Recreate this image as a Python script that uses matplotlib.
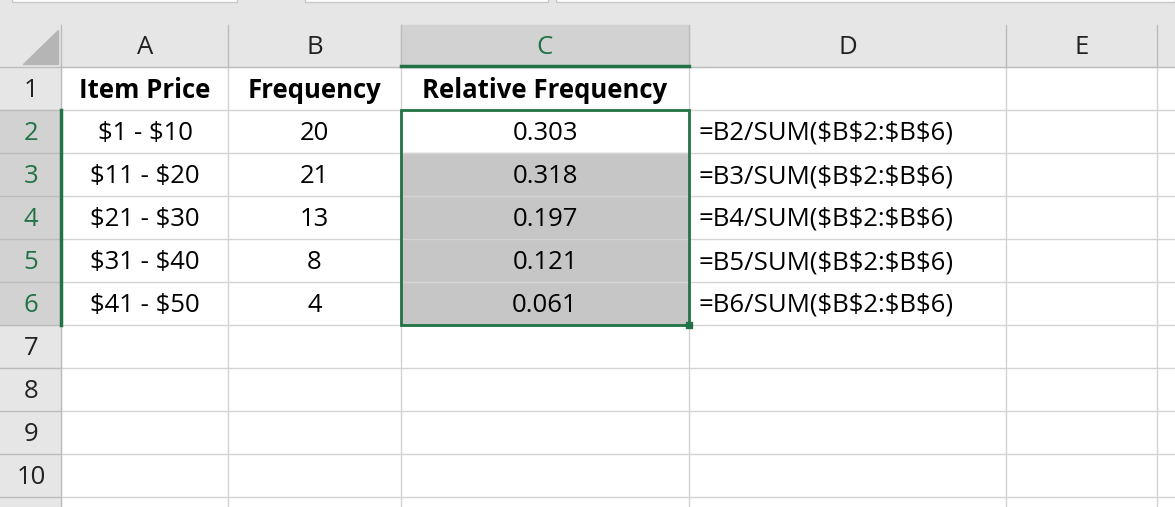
import matplotlib
matplotlib.use("Agg")
import matplotlib.pyplot as plt
from matplotlib.patches import Rectangle

plt.rcParams["text.parse_math"] = False

headers = ["Item Price", "Frequency", "Relative Frequency"]
price_ranges = ["$1 - $10", "$11 - $20", "$21 - $30", "$31 - $40", "$41 - $50"]
frequency = [20, 21, 13, 8, 4]
rel_freq = ["0.303", "0.318", "0.197", "0.121", "0.061"]
formulas = ["=B2/SUM($B$2:$B$6)", "=B3/SUM($B$2:$B$6)", "=B4/SUM($B$2:$B$6)",
            "=B5/SUM($B$2:$B$6)", "=B6/SUM($B$2:$B$6)"]
col_letters = ["A", "B", "C", "D", "E"]

W, H = 1175, 507
col_x = [62, 228, 401, 689, 1006, 1157, 1175]
row_y = [25, 67] + [67 + 43 * i for i in range(1, 11)]
FONT = "Open Sans"
GREEN = "#217346"
GRID = "#d4d4d4"
FS = 18.5

fig = plt.figure(figsize=(W / 100, H / 100), dpi=100)
ax = fig.add_axes([0, 0, 1, 1])
ax.set_xlim(0, W); ax.set_ylim(H, 0); ax.axis("off")

ax.add_patch(Rectangle((0, 0), W, H, color="white", zorder=0))
ax.add_patch(Rectangle((0, 0), W, 67, color="#e6e6e6", zorder=1))
ax.add_patch(Rectangle((0, 67), 61, H, color="#e6e6e6", zorder=1))
for x0, x1 in [(12, 237), (305, 548), (556, 1175)]:
    ax.add_patch(Rectangle((x0, -5), x1 - x0, 7, facecolor="white", edgecolor="#c8c8c8", lw=1, zorder=2))
ax.add_patch(plt.Polygon([[23, 64], [58, 64], [58, 30]], color="#b5b5b5", zorder=2))

ax.add_patch(Rectangle((col_x[2], 25), col_x[3] - col_x[2], 42, color="#d2d2d2", zorder=2))
ax.add_patch(Rectangle((0, row_y[2]), 61, row_y[7] - row_y[2], color="#d2d2d2", zorder=2))
ax.add_patch(Rectangle((col_x[2], row_y[3]), col_x[3] - col_x[2], row_y[7] - row_y[3], color="#c6c6c6", zorder=2))

for x in col_x[1:-1]:
    ax.plot([x, x], [67, H], color=GRID, lw=1, zorder=3)
    ax.plot([x, x], [25, 67], color="#bcbcbc", lw=1, zorder=3)
for y in row_y[2:]:
    ax.plot([61, W], [y, y], color=GRID, lw=1, zorder=3)
    ax.plot([0, 61], [y, y], color="#bcbcbc", lw=1, zorder=3)
ax.plot([0, W], [67, 67], color="#bcbcbc", lw=1, zorder=3)
ax.plot([61, 61], [25, H], color="#bcbcbc", lw=1, zorder=3)
ax.plot([col_x[2], col_x[3]], [66, 66], color=GREEN, lw=2.5, zorder=4)
ax.plot([61, 61], [row_y[2], row_y[7]], color=GREEN, lw=2.5, zorder=4)
ax.add_patch(Rectangle((col_x[2], row_y[2]), col_x[3] - col_x[2], row_y[7] - row_y[2],
                       fill=False, edgecolor=GREEN, lw=2, zorder=5))
ax.add_patch(Rectangle((col_x[3] - 3, row_y[7] - 3), 6, 6, color=GREEN, zorder=6))

def cx(i):
    return (col_x[i] + col_x[i + 1]) / 2

def cy(r):
    return (row_y[r] + row_y[r + 1]) / 2 + 2

for i, c in enumerate(col_letters):
    ax.text(cx(i), 47, c, ha="center", va="center", fontsize=FS, family=FONT,
            color=GREEN if c == "C" else "#222222", zorder=6)
for r in range(1, 11):
    ax.text(31, cy(r), str(r), ha="center", va="center", fontsize=FS, family=FONT,
            color=GREEN if 2 <= r <= 6 else "#222222", zorder=6)

for i, h in enumerate(headers):
    ax.text(cx(i), cy(1), h, ha="center", va="center", fontsize=FS, family=FONT,
            fontweight="bold", color="black", zorder=6)
for k in range(5):
    r = k + 2
    ax.text(cx(0), cy(r), price_ranges[k], ha="center", va="center", fontsize=FS, family=FONT, zorder=6)
    ax.text(cx(1), cy(r), str(frequency[k]), ha="center", va="center", fontsize=FS, family=FONT, zorder=6)
    ax.text(cx(2), cy(r), rel_freq[k], ha="center", va="center", fontsize=FS, family=FONT, zorder=6)
    ax.text(col_x[3] + 10, cy(r), formulas[k], ha="left", va="center", fontsize=FS, family=FONT, zorder=6)

fig.savefig("out.png", dpi=100)
